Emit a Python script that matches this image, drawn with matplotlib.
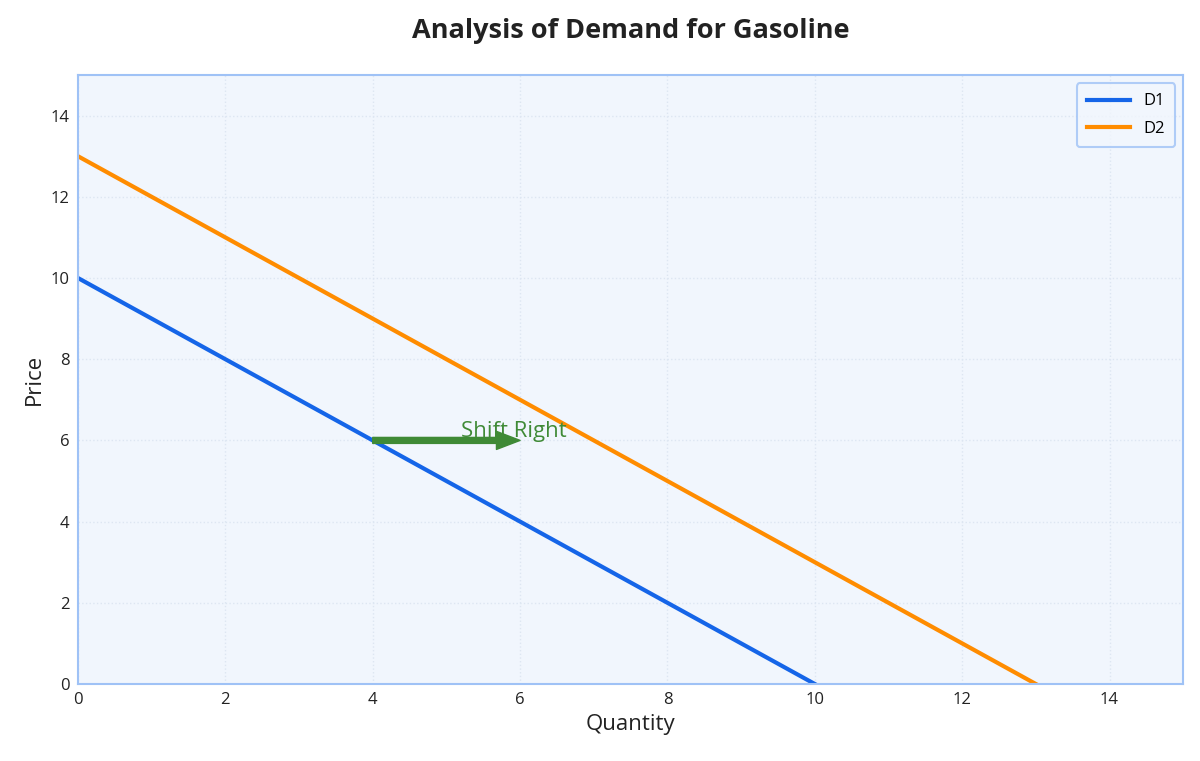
import numpy as np
import matplotlib
matplotlib.use('Agg')
import matplotlib.pyplot as plt

# datos de las curvas de demanda
cantidad_d1 = [0, 10]
precio_d1 = [10, 0]
cantidad_d2 = [0, 13]
precio_d2 = [13, 0]

# flecha del desplazamiento
flecha_inicio = (4, 6)
flecha_fin = (6, 6)
texto_flecha = 'Shift Right'

plt.rcParams['font.family'] = ['Open Sans', 'DejaVu Sans']

fig = plt.figure(figsize=(12, 7.61), dpi=100)
ax = fig.add_axes([0.065, 0.1012, 0.921, 0.8002])
ax.set_facecolor('#f1f6fd')

ax.plot(cantidad_d1, precio_d1, color='#1565e8', linewidth=3, label='D1')
ax.plot(cantidad_d2, precio_d2, color='#ff8c00', linewidth=3, label='D2')

ax.annotate('', xy=flecha_fin, xytext=flecha_inicio,
            arrowprops=dict(facecolor='#3f8a36', edgecolor='#3f8a36',
                            width=4.3, headwidth=13, headlength=17, shrink=0))
ax.text(5.2, 5.97, texto_flecha, color='#3f8a36', fontsize=16, va='bottom')

ax.set_xlim(0, 15)
ax.set_ylim(0, 15)
ax.set_xticks(range(0, 15, 2))
ax.set_yticks(range(0, 15, 2))
ax.tick_params(length=0, labelsize=12, colors='#222222', pad=6)
ax.grid(True, linestyle=':', color='#dde6f2', linewidth=1)
for s in ax.spines.values():
    s.set_color('#9fc2f6')
    s.set_linewidth(1.5)

ax.set_xlabel('Quantity', fontsize=16, color='#222222')
ax.set_ylabel('Price', fontsize=16, color='#222222')
ax.set_title('Analysis of Demand for Gasoline', fontsize=19.5, fontweight='bold',
             color='#222222', pad=27)

leg = ax.legend(loc='upper right', fontsize=12, frameon=True,
                handlelength=2.6, labelspacing=0.7, borderpad=0.6)
leg.get_frame().set_edgecolor('#9fc2f6')
leg.get_frame().set_facecolor('#f1f6fd')
leg.get_frame().set_linewidth(1.5)

fig.savefig('out.png', dpi=100)
